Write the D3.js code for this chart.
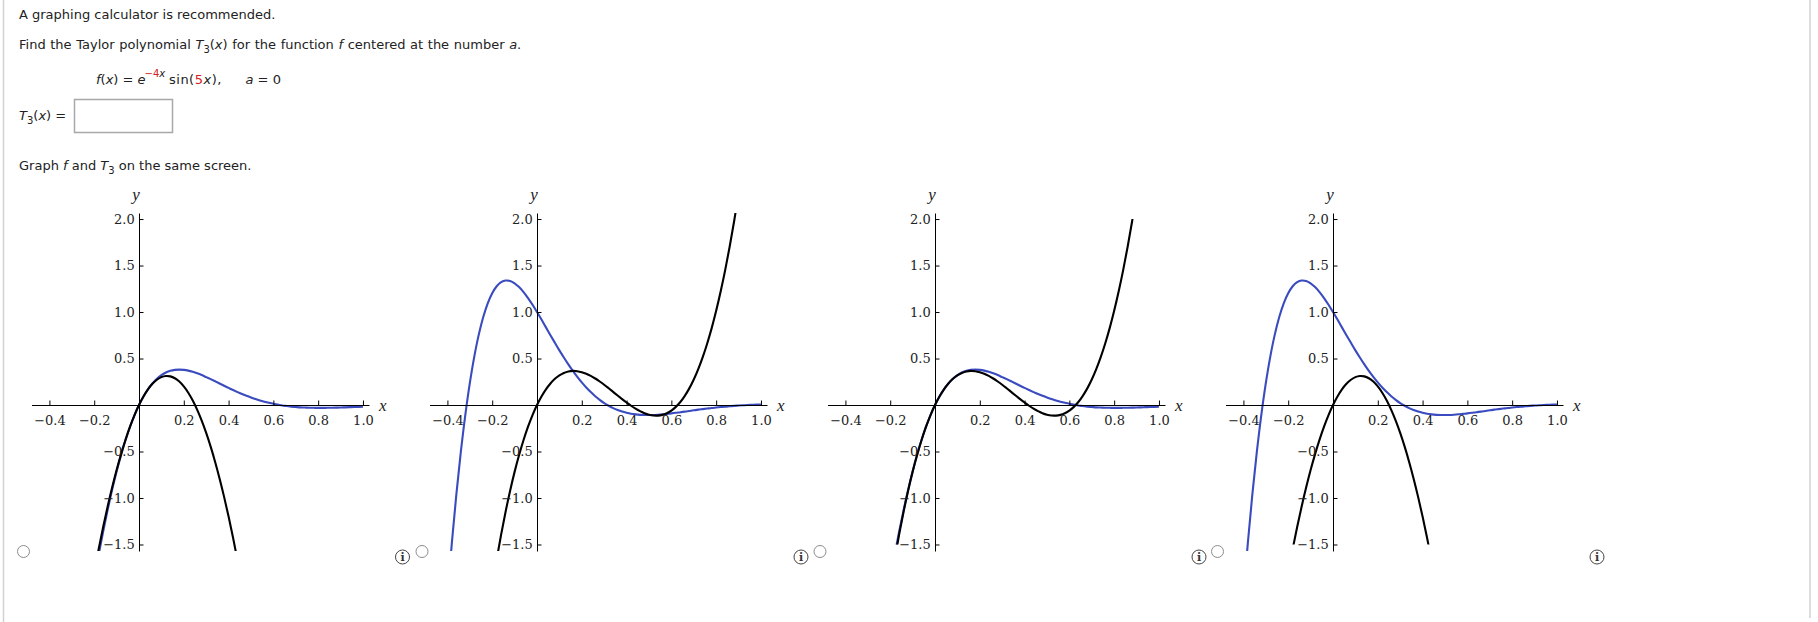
<!DOCTYPE html>
<html>
<head>
<meta charset="utf-8">
<script src="https://cdn.jsdelivr.net/npm/d3@7"></script>
<style>
  body { margin: 0; background: #fff; }
  svg { display: block; }
  .q { font-family: "DejaVu Sans", Verdana, sans-serif; font-size: 13px; fill: #222; }
  .tick text { font-family: "DejaVu Serif", serif; font-size: 13px; fill: #222; }
  .tick line, .domain { stroke: #000; }
  .ax-label { font-family: "Liberation Serif", serif; font-style: italic; font-size: 17px; fill: #222; }
</style>
</head>
<body>
<svg id="chart" width="1818" height="622"></svg>
<script>
// sample positions along x
const xSamples = [-0.40, -0.38, -0.36, -0.34, -0.32, -0.30, -0.28, -0.26, -0.24, -0.22,
  -0.20, -0.18, -0.16, -0.14, -0.12, -0.10, -0.08, -0.06, -0.04, -0.02,
  0.00, 0.02, 0.04, 0.06, 0.08, 0.10, 0.12, 0.14, 0.16, 0.18,
  0.20, 0.22, 0.24, 0.26, 0.28, 0.30, 0.32, 0.34, 0.36, 0.38,
  0.40, 0.42, 0.44, 0.46, 0.48, 0.50, 0.52, 0.54, 0.56, 0.58,
  0.60, 0.62, 0.64, 0.66, 0.68, 0.70, 0.72, 0.74, 0.76, 0.78,
  0.80, 0.82, 0.84, 0.86, 0.88, 0.90, 0.92, 0.94, 0.96, 0.98, 1.00];

// f(x) = e^-4x sin(5x)  (blue, panels 1 and 3)
const fValues = [-4.504, -4.327, -4.110, -3.864, -3.595, -3.312, -3.020, -2.726, -2.434, -2.149,
  -1.873, -1.609, -1.361, -1.128, -0.912, -0.715, -0.536, -0.376, -0.233, -0.108,
  0.000, 0.092, 0.169, 0.232, 0.283, 0.321, 0.349, 0.368, 0.378, 0.381,
  0.378, 0.370, 0.357, 0.341, 0.322, 0.300, 0.278, 0.255, 0.231, 0.207,
  0.184, 0.161, 0.139, 0.118, 0.099, 0.081, 0.064, 0.049, 0.036, 0.024,
  0.013, 0.004, -0.005, -0.011, -0.017, -0.021, -0.025, -0.027, -0.029, -0.030,
  -0.031, -0.031, -0.030, -0.029, -0.028, -0.027, -0.025, -0.023, -0.021, -0.020, -0.018];

// blue curve of panels 2 and 4
const gValues = [-2.061, -1.478, -0.959, -0.502, -0.105, 0.235, 0.521, 0.757, 0.946, 1.094,
  1.202, 1.277, 1.321, 1.339, 1.334, 1.309, 1.268, 1.214, 1.150, 1.078,
  1.000, 0.919, 0.835, 0.751, 0.669, 0.588, 0.511, 0.437, 0.367, 0.303,
  0.243, 0.188, 0.139, 0.095, 0.056, 0.021, -0.008, -0.033, -0.054, -0.071,
  -0.084, -0.094, -0.101, -0.106, -0.108, -0.108, -0.107, -0.104, -0.100, -0.095,
  -0.090, -0.084, -0.077, -0.071, -0.064, -0.057, -0.050, -0.044, -0.038, -0.032,
  -0.027, -0.022, -0.017, -0.013, -0.009, -0.006, -0.003, 0.000, 0.002, 0.004, 0.005];

// cubic (black, panels 2 and 3)
const t3Values = [null, null, null, null, null, null, null, null, null, null,
  -1.953, -1.660, -1.391, -1.145, -0.921, -0.719, -0.538, -0.376, -0.233, -0.108,
  0.000, 0.092, 0.169, 0.232, 0.282, 0.319, 0.345, 0.361, 0.367, 0.364,
  0.353, 0.336, 0.313, 0.285, 0.253, 0.218, 0.180, 0.141, 0.102, 0.064,
  0.027, -0.008, -0.039, -0.066, -0.088, -0.104, -0.113, -0.114, -0.106, -0.088,
  -0.060, -0.020, 0.032, 0.099, 0.179, 0.274, 0.386, 0.515, 0.662, 0.827,
  1.013, 1.220, 1.448, 1.699, 1.973, 2.273, 2.596, null, null, null, null];

// parabola (black, panels 1 and 4)
const t2Values = [null, null, null, null, null, null, null, null, null, null,
  -1.800, -1.548, -1.312, -1.092, -0.888, -0.700, -0.528, -0.372, -0.232, -0.108,
  0.000, 0.092, 0.168, 0.228, 0.272, 0.300, 0.312, 0.308, 0.288, 0.252,
  0.200, 0.132, 0.048, -0.052, -0.168, -0.300, -0.448, -0.612, -0.792, -0.988,
  -1.200, -1.428, -1.672, -1.932, null, null, null, null, null, null,
  null, null, null, null, null, null, null, null, null, null,
  null, null, null, null, null, null, null, null, null, null, null];

const xTickValues = [-0.4, -0.2, 0.2, 0.4, 0.6, 0.8, 1.0];
const xTickLabels = ["\u22120.4", "\u22120.2", "0.2", "0.4", "0.6", "0.8", "1.0"];
const yTickValues = [-1.5, -1.0, -0.5, 0.5, 1.0, 1.5, 2.0];
const yTickLabels = ["\u22121.5", "\u22121.0", "\u22120.5", "0.5", "1.0", "1.5", "2.0"];

const seriesByKey = { f: fValues, g: gValues, t3: t3Values, t2: t2Values };

// layout of the four answer choices
const panels = [
  { axisX: 139, curves: [{ key: "f", color: "#3a4bbf", lo: -1.57, hi: 2.07 }, { key: "t2", color: "#000", lo: -1.57, hi: 2.07 }] },
  { axisX: 537, curves: [{ key: "g", color: "#3a4bbf", lo: -1.57, hi: 2.07 }, { key: "t3", color: "#000", lo: -1.57, hi: 2.065 }] },
  { axisX: 935, curves: [{ key: "f", color: "#3a4bbf", lo: -1.5, hi: 2.07 }, { key: "t3", color: "#000", lo: -1.5, hi: 2.0 }] },
  { axisX: 1333, curves: [{ key: "g", color: "#3a4bbf", lo: -1.57, hi: 2.07 }, { key: "t2", color: "#000", lo: -1.5, hi: 2.07 }] }
];
const radios = [[23.5, 551.5], [422, 551.5], [820, 551.5], [1217.5, 551.5]];
const infos = [[402.5, 557], [801, 557], [1199, 557], [1597, 557]];

const svg = d3.select("#chart");

// frame
svg.append("line").attr("x1", 3.5).attr("x2", 3.5).attr("y1", 0).attr("y2", 622)
  .attr("stroke", "#d2d2d2").attr("stroke-width", 1.5);
svg.append("line").attr("x1", 1810).attr("x2", 1810).attr("y1", 0).attr("y2", 618)
  .attr("stroke", "#d2d2d2").attr("stroke-width", 1.5);

// question text
const q = svg.append("g").attr("class", "q");
q.append("text").attr("x", 19).attr("y", 18.5).text("A graphing calculator is recommended.");

let t = q.append("text").attr("x", 19).attr("y", 48.5).attr("word-spacing", 0.5);
t.append("tspan").text("Find the Taylor polynomial ");
t.append("tspan").attr("font-style", "italic").text("T");
t.append("tspan").attr("font-size", 10).attr("dy", 4).text("3");
t.append("tspan").attr("dy", -4).text("(");
t.append("tspan").attr("font-style", "italic").text("x");
t.append("tspan").text(") for the function ");
t.append("tspan").attr("font-style", "italic").text("f");
t.append("tspan").text(" centered at the number ");
t.append("tspan").attr("font-style", "italic").text("a");
t.append("tspan").text(".");

// f(x) = e^(-4x) sin(5x),  a = 0
t = q.append("text").attr("x", 96).attr("y", 84);
t.append("tspan").attr("font-style", "italic").text("f");
t.append("tspan").text("(");
t.append("tspan").attr("font-style", "italic").text("x");
t.append("tspan").text(") = ");
t.append("tspan").attr("font-style", "italic").text("e");
t.append("tspan").attr("x", 144.5).attr("font-size", 10).attr("dy", -7.5).attr("fill", "#d42020").text("\u22124");
t.append("tspan").attr("font-size", 10).attr("font-style", "italic").text("x");
t = q.append("text").attr("x", 169).attr("y", 84).attr("letter-spacing", 0.5);
t.append("tspan").text("sin(");
t.append("tspan").attr("fill", "#d42020").text("5");
t.append("tspan").attr("font-style", "italic").text("x");
t.append("tspan").text("),");
t = q.append("text").attr("x", 245.5).attr("y", 84);
t.append("tspan").attr("font-style", "italic").text("a");
t.append("tspan").text(" = 0");

t = q.append("text").attr("x", 19).attr("y", 119.5);
t.append("tspan").attr("font-style", "italic").text("T");
t.append("tspan").attr("font-size", 10).attr("dy", 4).text("3");
t.append("tspan").attr("dy", -4).text("(");
t.append("tspan").attr("font-style", "italic").text("x");
t.append("tspan").text(") =");
svg.append("rect").attr("x", 74.5).attr("y", 99.5).attr("width", 98).attr("height", 33)
  .attr("fill", "#fff").attr("stroke", "#a8a8a8").attr("stroke-width", 1.5);

t = q.append("text").attr("x", 19).attr("y", 169.5);
t.append("tspan").text("Graph ");
t.append("tspan").attr("font-style", "italic").text("f");
t.append("tspan").text(" and ");
t.append("tspan").attr("font-style", "italic").text("T");
t.append("tspan").attr("font-size", 10).attr("dy", 4).text("3");
t.append("tspan").attr("dy", -4).text(" on the same screen.");

// plots
const y = d3.scaleLinear().domain([-1.57, 2.065]).range([551, 213]);

panels.forEach(function (p, pi) {
  const x = d3.scaleLinear().domain([-0.48, 1.027]).range([p.axisX - 107.5, p.axisX + 230]);
  const g = svg.append("g");

  // curves, each clipped to its own vertical window
  p.curves.forEach(function (c, ci) {
    const id = "clip" + pi + "_" + ci;
    g.append("clipPath").attr("id", id).append("rect")
      .attr("x", x(-0.48)).attr("width", x(1.027) - x(-0.48))
      .attr("y", y(c.hi)).attr("height", y(c.lo) - y(c.hi));
    const pts = xSamples.map((xv, i) => [xv, seriesByKey[c.key][i]]);
    const line = d3.line()
      .defined(d => d[1] != null)
      .x(d => x(d[0]))
      .y(d => y(d[1]))
      .curve(d3.curveCatmullRom);
    g.append("path").datum(pts)
      .attr("clip-path", "url(#" + id + ")")
      .attr("fill", "none").attr("stroke", c.color).attr("stroke-width", 2.1)
      .attr("stroke-linejoin", "round")
      .attr("d", line);
  });

  // x axis
  const xg = g.append("g").attr("transform", "translate(0," + Math.round(y(0)) + ")");
  xg.call(d3.axisBottom(x).tickValues(x.ticks(30)).tickFormat("").tickSizeInner(-2).tickSizeOuter(0));
  xg.call(d3.axisBottom(x).tickValues(xTickValues).tickFormat((d, i) => xTickLabels[i])
    .tickSizeInner(-4.5).tickSizeOuter(0).tickPadding(10.6));

  // y axis
  const yg = g.append("g").attr("transform", "translate(" + p.axisX + ",0)");
  yg.call(d3.axisLeft(y).tickValues(y.ticks(36).filter(v => v >= -1.55 && v <= 2.05)).tickFormat("").tickSizeInner(-2).tickSizeOuter(0));
  yg.call(d3.axisLeft(y).tickValues(yTickValues).tickFormat((d, i) => yTickLabels[i])
    .tickSizeInner(-4.5).tickSizeOuter(0).tickPadding(4.3));

  g.selectAll(".tick text").attr("font-family", null).attr("font-size", null);
  g.selectAll(".domain").attr("stroke-width", 1);

  g.append("text").attr("class", "ax-label").attr("x", p.axisX - 3).attr("y", 199.5)
    .attr("text-anchor", "middle").text("y");
  g.append("text").attr("class", "ax-label").attr("x", x(1.027) + 10).attr("y", Math.round(y(0)) + 5.5)
    .text("x");
});

// radio buttons and info icons
svg.selectAll(".radio").data(radios).enter().append("circle")
  .attr("class", "radio")
  .attr("cx", d => d[0]).attr("cy", d => d[1]).attr("r", 6)
  .attr("fill", "#fff").attr("stroke", "#8c8c8c").attr("stroke-width", 1);

const info = svg.selectAll(".info").data(infos).enter().append("g")
  .attr("class", "info")
  .attr("transform", d => "translate(" + d[0] + "," + d[1] + ")");
info.append("circle").attr("r", 7).attr("fill", "#fff").attr("stroke", "#444").attr("stroke-width", 1);
info.append("text").attr("text-anchor", "middle").attr("y", 4)
  .attr("font-family", "DejaVu Serif, serif").attr("font-size", 11).attr("font-weight", "bold")
  .attr("fill", "#333").text("i");
</script>
</body>
</html>
